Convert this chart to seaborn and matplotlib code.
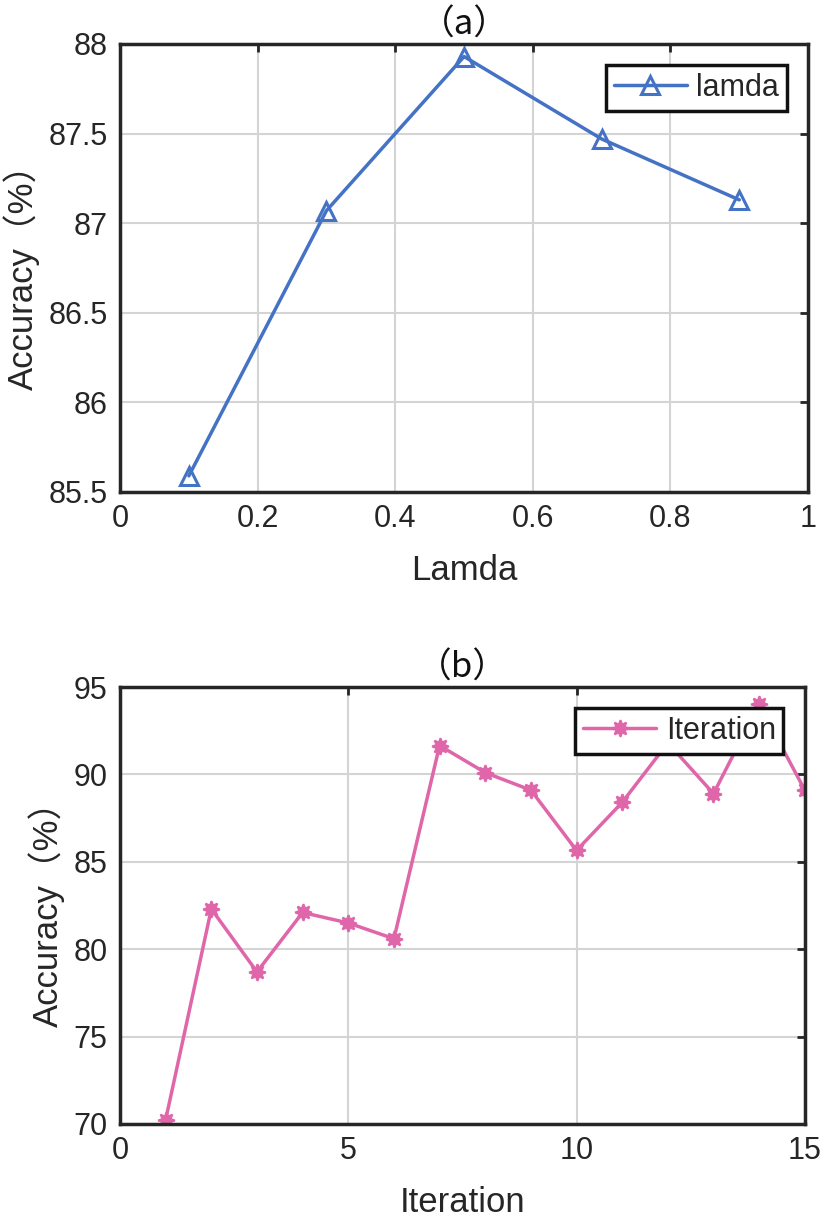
import matplotlib
matplotlib.use("Agg")
import matplotlib.pyplot as plt
import seaborn as sns
import pandas as pd

lamda_x = [0.1, 0.3, 0.5, 0.7, 0.9]
lamda_acc = [85.59, 87.07, 87.93, 87.47, 87.13]

iter_x = list(range(1, 16))
iter_acc = [70.25, 82.3, 78.7, 82.1, 81.5, 80.6, 91.65, 90.1, 89.1, 85.65, 88.4, 91.8, 88.9, 94.0, 89.1]

lamda_ticks = [0, 0.2, 0.4, 0.6, 0.8, 1]
lamda_tick_labels = ["0", "0.2", "0.4", "0.6", "0.8", "1"]
lamda_yticks = [85.5, 86, 86.5, 87, 87.5, 88]
lamda_ytick_labels = ["85.5", "86", "86.5", "87", "87.5", "88"]
iter_ticks = [0, 5, 10, 15]
iter_yticks = [70, 75, 80, 85, 90, 95]

sns.set_style("white")
plt.rcParams['font.family'] = ['Liberation Sans', 'Noto Sans CJK SC', 'DejaVu Sans']

blue = "#4472C4"
pink = "#E066AA"
fs = 22
lfs = 25

fig = plt.figure(figsize=(8.25, 12.22), dpi=100)
ax1 = fig.add_axes([0.1455, 0.5974, 0.834, 0.3666])
ax2 = fig.add_axes([0.1455, 0.0802, 0.830, 0.3576])

df1 = pd.DataFrame({"x": lamda_x, "y": lamda_acc})
df2 = pd.DataFrame({"x": iter_x, "y": iter_acc})

sns.lineplot(data=df1, x="x", y="y", ax=ax1, color=blue, linewidth=2.5,
             marker="^", markersize=13, markerfacecolor="none",
             markeredgecolor=blue, markeredgewidth=2.2, label="lamda")
sns.lineplot(data=df2, x="x", y="y", ax=ax2, color=pink, linewidth=2.5,
             marker=(8, 1, 0), markersize=12, markerfacecolor=pink,
             markeredgecolor=pink, markeredgewidth=1.5, label="Iteration")

def style(ax, xlim, ylim, xticks, yticks, xlabels, ylabels, xlabel, title):
    ax.set_xlim(*xlim)
    ax.set_ylim(*ylim)
    ax.set_xticks(xticks)
    ax.set_yticks(yticks)
    ax.set_xticklabels(xlabels, fontsize=fs)
    ax.set_yticklabels(ylabels, fontsize=fs)
    ax.grid(True, color="#d4d4d4", linewidth=1.5)
    ax.set_axisbelow(True)
    for s in ax.spines.values():
        s.set_visible(True)
        s.set_color("#262626")
        s.set_linewidth(2.5)
    ax.tick_params(direction="in", length=6, width=2, top=True, right=True,
                   colors="#262626", labelcolor="#262626", pad=9)
    ax.set_xlabel(xlabel, fontsize=lfs, color="#262626", labelpad=14)
    ax.set_ylabel("Accuracy（%）", fontsize=lfs, color="#262626", labelpad=6)
    ax.set_title("（" + title + "）", fontsize=lfs, color="#111111", pad=7,
                 family=['Noto Sans CJK TC', 'Liberation Sans'])
    leg = ax.legend(loc="upper right", fontsize=fs, frameon=True, fancybox=False,
                    handlelength=2.4, borderpad=0.25, handletextpad=0.3,
                    borderaxespad=0.7)
    leg.get_frame().set_edgecolor("#111111")
    leg.get_frame().set_linewidth(2.5)
    leg.get_frame().set_alpha(1)

style(ax1, (0, 1), (85.5, 88), lamda_ticks, lamda_yticks, lamda_tick_labels,
      lamda_ytick_labels, "Lamda", "a")
style(ax2, (0, 15), (70, 95), iter_ticks, iter_yticks, [str(t) for t in iter_ticks],
      [str(t) for t in iter_yticks], "Iteration", "b")

fig.savefig("out.png", dpi=100)
